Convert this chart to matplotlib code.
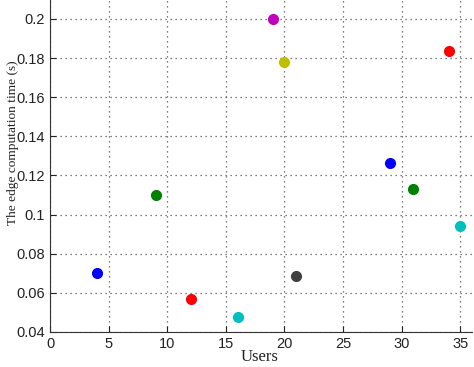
import matplotlib
matplotlib.use("Agg")
import matplotlib.pyplot as plt

# user index and edge computation time (s)
users = [4, 9, 12, 16, 19, 20, 21, 29, 31, 34, 35]
times = [0.0704, 0.1100, 0.0570, 0.0475, 0.2000, 0.1780, 0.0685, 0.1265, 0.1132, 0.1835, 0.0942]
colors = [(0, 0, 1), (0, 0.5, 0), (1, 0, 0), (0, 0.75, 0.75), (0.75, 0, 0.75),
          (0.75, 0.75, 0), (0.25, 0.25, 0.25), (0, 0, 1), (0, 0.5, 0), (1, 0, 0),
          (0, 0.75, 0.75)]

xticks = [0, 5, 10, 15, 20, 25, 30, 35]
yticks = [0.04, 0.06, 0.08, 0.1, 0.12, 0.14, 0.16, 0.18, 0.2]
ytick_labels = ["0.04", "0.06", "0.08", "0.1", "0.12", "0.14", "0.16", "0.18", "0.2"]

fig = plt.figure(figsize=(4.74, 3.67), dpi=100)
ax = fig.add_axes([0.1055, 0.0954, 0.8903, 0.9046])

for x, y, c in zip(users, times, colors):
    ax.plot(x, y, "o", color=c, markersize=7, markeredgecolor=c)

ax.set_xlim(0, 36)
ax.set_ylim(0.04, 0.2097)
ax.set_xticks(xticks)
ax.set_yticks(yticks)
ax.set_yticklabels(ytick_labels)
ax.tick_params(direction="in", length=4, labelsize=10.5, colors="#222222")
for lab in ax.get_xticklabels() + ax.get_yticklabels():
    lab.set_fontfamily("Liberation Sans")
ax.grid(True, linestyle=(0, (1, 3)), color="#555555", linewidth=0.9)

ax.spines["top"].set_visible(False)
ax.spines["right"].set_visible(False)
ax.spines["left"].set_color("#333333")
ax.spines["bottom"].set_color("#333333")

ax.set_xlabel("Users", fontfamily="Liberation Serif", fontsize=12, color="#222222", va="baseline")
ax.set_ylabel("The edge computation time (s)", fontfamily="Liberation Serif", fontsize=9.6,
              color="#222222", va="baseline")
ax.xaxis.set_label_coords(0.4976, -0.088)
ax.yaxis.set_label_coords(-0.081, 0.571)

fig.savefig("out.png", dpi=100)
